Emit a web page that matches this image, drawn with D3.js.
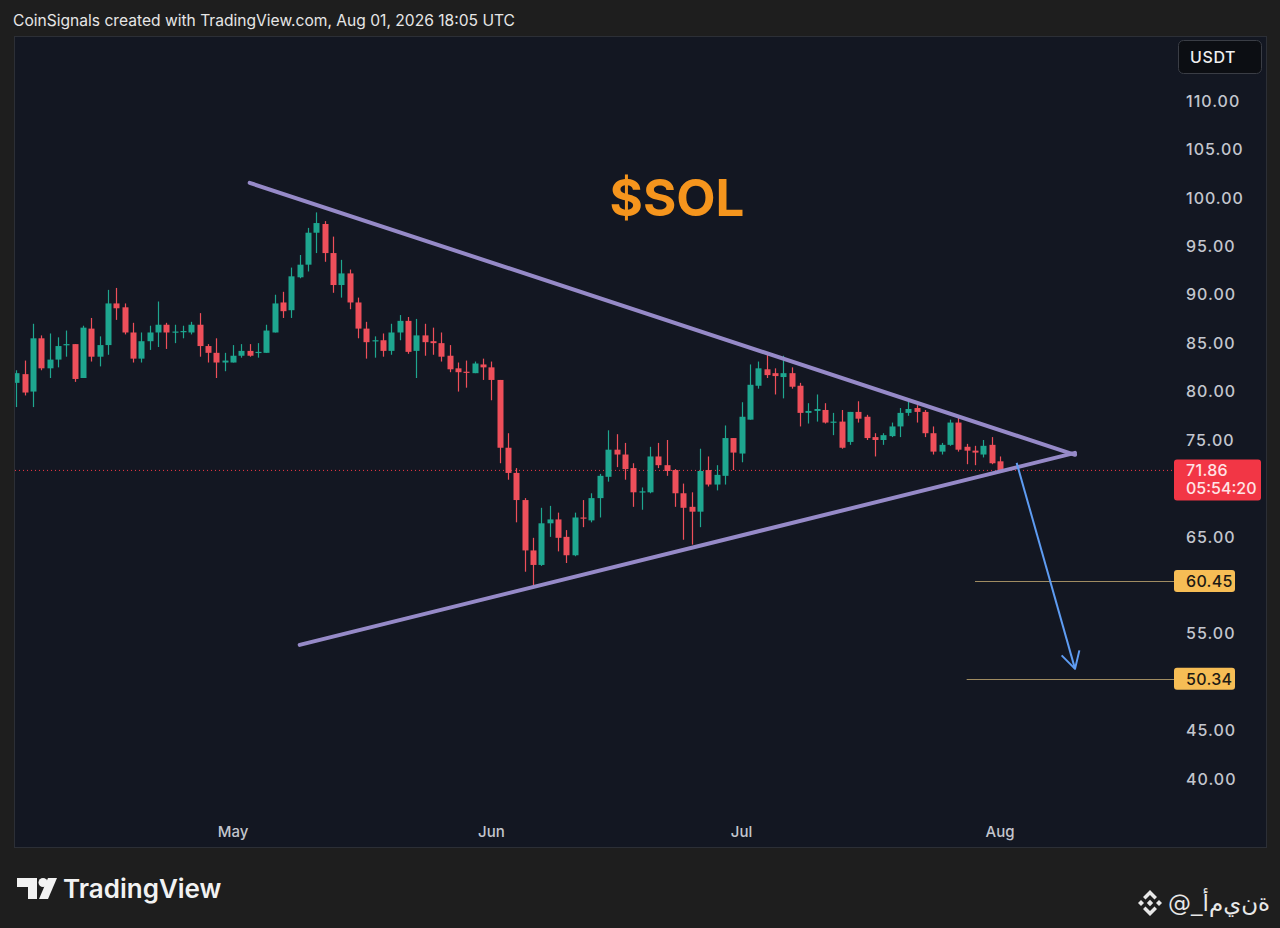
<!DOCTYPE html>
<html><head><meta charset="utf-8">
<script src="https://cdn.jsdelivr.net/npm/d3@7"></script>
<style>
html,body{margin:0;padding:0;background:#1e1e1e;}
svg{display:block;}
</style></head>
<body>
<svg id="c" width="1280" height="928"></svg>
<script>
// ---------------- DATA ----------------
const startDate = "2026-04-05"; // first daily candle
const opens  = [80.9,81.8,80.0,85.5,82.4,83.3,84.8,84.9,81.4,86.5,83.6,84.8,89.1,88.7,86.1,83.4,85.2,86.1,86.9,86.1,86.2,86.1,86.9,84.7,84.0,83.0,83.0,83.7,84.2,84.0,
84.0,86.1,89.2,88.4,91.8,93.1,96.4,97.3,94.3,91.0,92.2,89.2,86.5,85.2,85.3,84.2,86.1,87.3,84.2,85.8,85.2,85.0,83.7,82.4,82.05,81.9,82.8,82.5,81.2,74.2,
71.6,68.8,63.6,62.1,66.4,66.8,65.0,63.1,67.0,66.7,69.0,71.2,74.0,73.5,72.1,69.6,69.6,73.3,72.4,71.9,69.5,68.1,67.6,71.9,70.4,71.3,75.2,73.6,77.1,80.6,
82.3,81.9,81.5,81.9,80.6,77.8,78.0,78.1,76.8,76.9,74.8,77.9,77.4,75.3,75.0,75.4,76.4,77.8,78.3,77.9,75.7,73.8,74.5,76.8,74.3,73.9,73.5,74.5,72.8];
const highs  = [82.2,83.2,87.0,85.8,86.0,85.6,86.3,84.9,86.8,87.6,85.7,90.5,90.7,89.1,87.1,86.1,86.8,89.3,87.1,86.9,86.8,87.2,88.1,84.9,85.5,84.0,84.8,84.9,84.9,85.0,
86.9,90.0,90.3,92.8,94.1,96.9,98.5,97.6,96.0,93.6,92.6,89.7,87.2,85.7,86.0,87.0,87.9,87.7,87.5,87.0,86.6,86.1,84.8,83.0,83.2,83.1,83.4,83.1,81.2,75.7,
72.1,69.0,64.9,68.0,68.2,67.5,65.7,67.5,68.8,69.5,71.5,76.0,75.6,74.7,72.6,70.1,74.3,74.7,75.0,72.0,70.5,69.6,74.1,73.3,72.4,76.5,75.2,78.9,82.8,83.1,
83.8,82.4,83.7,82.5,80.9,78.8,79.7,78.8,77.8,78.1,77.9,79.0,77.6,75.7,75.7,76.8,78.3,79.0,78.6,78.1,76.4,74.7,77.1,77.4,74.6,74.4,75.0,75.3,73.3];
const lows   = [78.4,79.6,78.4,82.2,81.4,82.5,83.6,81.0,81.4,83.1,82.6,83.8,87.4,85.9,83.0,83.0,84.3,84.6,84.4,85.0,85.5,85.9,83.6,83.0,81.4,82.1,83.0,83.5,83.6,83.5,
84.0,86.1,87.6,87.6,91.7,92.4,94.3,93.4,90.2,89.7,88.5,85.5,83.4,83.5,83.6,83.8,85.3,83.9,81.4,83.7,83.8,83.1,82.0,80.0,80.4,81.9,81.2,79.1,72.6,70.9,
66.5,61.4,60.0,62.0,65.0,63.5,62.3,63.0,66.0,66.5,67.0,70.7,72.2,70.9,68.1,67.8,69.5,72.1,71.3,68.1,64.7,64.2,66.0,70.2,69.8,70.4,71.9,72.7,77.1,80.3,
81.4,79.7,79.3,80.3,76.4,76.7,76.9,76.7,75.5,74.1,74.5,76.8,75.0,73.3,74.5,75.3,75.3,77.5,76.8,75.3,73.5,73.5,74.4,73.8,72.5,72.4,73.2,72.5,71.8];
const closes = [81.9,79.9,85.5,82.4,83.3,84.7,84.9,81.3,86.6,83.6,84.8,89.1,88.6,86.1,83.4,85.2,86.1,86.9,86.1,86.2,86.25,86.9,84.7,84.0,83.0,83.2,83.7,84.2,83.7,84.1,
86.3,89.1,88.3,91.9,93.1,96.4,97.4,94.3,91.0,92.2,89.2,86.5,85.1,85.3,84.2,86.1,87.3,84.1,85.8,85.1,85.0,83.6,82.3,82.0,82.0,82.9,82.5,81.2,74.2,71.6,
68.8,63.6,62.1,66.4,66.8,64.9,63.1,67.0,66.9,69.0,71.3,74.0,73.5,72.0,69.6,69.7,73.3,72.4,71.8,69.5,68.0,67.6,71.8,70.4,71.4,75.2,73.7,77.4,80.7,82.4,
81.7,81.6,81.9,80.5,77.8,78.0,78.2,76.8,76.9,74.2,77.9,77.2,75.2,75.0,75.5,76.4,77.8,78.2,77.9,75.7,73.8,74.5,76.8,74.0,73.9,73.7,74.4,72.6,71.86];

const monthTicks = ["2026-05-01","2026-06-01","2026-07-01","2026-08-01"];
const monthLabels = ["May","Jun","Jul","Aug"];
const priceTicks = [110,105,100,95,90,85,80,75,65,55,45,40];
const lastPrice = 71.86;
const countdown = "05:54:20";
const targetLevels = [60.45, 50.34];
const targetStarts = ["2026-07-29","2026-07-28"];
const upperLine = [["2026-05-03",101.55],["2026-08-10",73.47]];
const lowerLine = [["2026-05-09",53.85],["2026-08-10",73.67]];
const arrowLine = [["2026-08-03",72.64],["2026-08-10",51.37]];
const title = "$SOL";
const headerText = "CoinSignals created with TradingView.com, Aug 01, 2026 18:05 UTC";
const currency = "USDT";
const brandText = "TradingView";
const handleText = "@_أ\u200Cم\u200Cي\u200Cن\u200Cة";

// ---------------- SETUP ----------------
const svg = d3.select("#c");
const P = d3.utcParse("%Y-%m-%d");
const FONT = "Inter, 'Open Sans', Roboto, sans-serif";
const UP = "#1ea68f", DOWN = "#ee4f5a";
const AXIS = "#c3c6ce";

const x = d3.scaleUtc().domain([P("2026-05-01"), P("2026-08-01")]).range([233, 1000]);
const y = d3.scaleLinear().domain([40, 110]).range([779, 101]);

const dates = d3.utcDay.range(P(startDate), d3.utcDay.offset(P(startDate), opens.length));
const candles = dates.map((d, i) => ({d, o: opens[i], h: highs[i], l: lows[i], c: closes[i]}));

// background
svg.append("rect").attr("width",1280).attr("height",928).attr("fill","#1e1e1e");
svg.append("rect").attr("x",14.5).attr("y",36.5).attr("width",1252).attr("height",811)
  .attr("fill","#131722").attr("stroke","#2c2f36").attr("stroke-width",1);

// header
svg.append("text").attr("x",13).attr("y",26).attr("fill","#e6e6e6")
  .attr("font-family",FONT).attr("font-size",15.6).text(headerText);

// chart clip
svg.append("defs").append("clipPath").attr("id","clip")
  .append("rect").attr("x",15).attr("y",37).attr("width",1155).attr("height",770);

const plot = svg.append("g");

// current price dotted line
plot.append("line").attr("x1",15).attr("x2",1174)
  .attr("y1",y(lastPrice)).attr("y2",y(lastPrice))
  .attr("stroke","#f23645").attr("stroke-width",1).attr("stroke-dasharray","1,3");

// candles
const cw = 6;
const g = plot.append("g").attr("clip-path","url(#clip)");
const cg = g.selectAll("g.cd").data(candles).join("g").attr("class","cd");
cg.append("line")
  .attr("x1", d => Math.round(x(d.d)) + 0.5).attr("x2", d => Math.round(x(d.d)) + 0.5)
  .attr("y1", d => y(d.h)).attr("y2", d => y(d.l))
  .attr("stroke", d => d.c >= d.o ? UP : DOWN).attr("stroke-width",1.2);
cg.append("rect")
  .attr("x", d => Math.round(x(d.d)) + 0.5 - cw/2)
  .attr("width", cw)
  .attr("y", d => y(Math.max(d.o, d.c)))
  .attr("height", d => Math.max(1.2, Math.abs(y(d.o) - y(d.c))))
  .attr("fill", d => d.c >= d.o ? UP : DOWN);

// trend lines
const lineGen = d3.line().x(p => x(P(p[0]))).y(p => y(p[1]));
[upperLine, lowerLine].forEach(L => {
  plot.append("path").attr("d", lineGen(L)).attr("fill","none")
    .attr("stroke","#968ac8").attr("stroke-width",4).attr("stroke-linecap","round");
});

// target levels
targetLevels.forEach((v, i) => {
  plot.append("line").attr("x1", x(P(targetStarts[i]))).attr("x2", 1174)
    .attr("y1", Math.round(y(v)) + 0.5).attr("y2", Math.round(y(v)) + 0.5)
    .attr("stroke","#a08c62").attr("stroke-width",1);
});

// blue arrow
const a0 = [x(P(arrowLine[0][0])), y(arrowLine[0][1])];
const a1 = [x(P(arrowLine[1][0])), y(arrowLine[1][1])];
plot.append("path").attr("d", lineGen(arrowLine)).attr("fill","none")
  .attr("stroke","#5e9cf2").attr("stroke-width",2);
const ang = Math.atan2(a0[1]-a1[1], a0[0]-a1[0]);
const wl = 19, spread = Math.PI/6.2;
const wing = s => [a1[0] + wl*Math.cos(ang+s), a1[1] + wl*Math.sin(ang+s)];
plot.append("path")
  .attr("d", d3.line()([wing(spread), a1, wing(-spread)]))
  .attr("fill","none").attr("stroke","#5e9cf2").attr("stroke-width",2)
  .attr("stroke-linejoin","round");

// title
svg.append("text").attr("x",677).attr("y",216).attr("text-anchor","middle")
  .attr("fill","#f5951d").attr("font-family",FONT).attr("font-weight",700)
  .attr("font-size",51).text(title);

// y axis labels
const axisText = (sel, ls) => sel.attr("font-family",FONT).attr("font-size",16)
  .attr("font-weight",500).attr("letter-spacing",ls);
svg.append("g").selectAll("text").data(priceTicks).join("text")
  .attr("x",1186).attr("y", d => y(d)).attr("dy","0.36em")
  .attr("fill",AXIS).call(axisText, 1.0)
  .text(d => d3.format(".2f")(d));

// USDT box
svg.append("rect").attr("x",1178.5).attr("y",40.5).attr("width",83).attr("height",33).attr("rx",5)
  .attr("fill","#0c0e13").attr("stroke","#3a3d45");
svg.append("text").attr("x",1190).attr("y",57).attr("dy","0.36em")
  .attr("fill","#f0f0f0").attr("font-family",FONT).attr("font-size",16).attr("font-weight",500)
  .attr("letter-spacing",0.6).text(currency);

// target labels
targetLevels.forEach(v => {
  svg.append("rect").attr("x",1174).attr("y", y(v) - 11).attr("width",61).attr("height",22).attr("rx",3)
    .attr("fill","#f6bd55");
  svg.append("text").attr("x",1186).attr("y", y(v)).attr("dy","0.36em")
    .attr("fill","#1d1a14").call(axisText, 0.3)
    .text(d3.format(".2f")(v));
});

// last price label
svg.append("rect").attr("x",1174).attr("y", y(lastPrice) - 11).attr("width",87).attr("height",41).attr("rx",3)
  .attr("fill","#f23645");
svg.append("text").attr("x",1186).attr("y", y(lastPrice)).attr("dy","0.36em")
  .attr("fill","#ffe3e5").call(axisText, 0.3).text(d3.format(".2f")(lastPrice));
svg.append("text").attr("x",1186).attr("y", y(lastPrice) + 18).attr("dy","0.36em")
  .attr("fill","#ffe3e5").call(axisText, 0).text(countdown);

// x axis labels
svg.append("g").selectAll("text").data(monthTicks).join("text")
  .attr("x", d => x(P(d))).attr("y",832).attr("dy","0.36em").attr("text-anchor","middle")
  .attr("fill",AXIS).attr("font-family",FONT).attr("font-size",15).attr("font-weight",500)
  .text((d,i) => monthLabels[i]);

// footer: TradingView logo
const logo = svg.append("g").attr("fill","#f2f2f2");
logo.append("path").attr("d","M17,878 H37 V899 H28 V887 H17 Z");
logo.append("circle").attr("cx",43).attr("cy",882.5).attr("r",4.5);
logo.append("path").attr("d","M48,878 H57 L48,899 H39 Z");
svg.append("text").attr("x",63).attr("y",898).attr("fill","#f2f2f2")
  .attr("font-family",FONT).attr("font-weight",600).attr("font-size",26)
  .text(brandText);

// footer: Binance-like icon + handle
const bi = svg.append("g").attr("transform","translate(1150,903)").attr("fill","#e8e8e8");
const dia = (cx, cy, s) => `M${cx},${cy-s} L${cx+s},${cy} L${cx},${cy+s} L${cx-s},${cy} Z`;
bi.append("path").attr("d", dia(0,0,3.2));
bi.append("path").attr("d", dia(-9,0,3));
bi.append("path").attr("d", dia(9,0,3));
bi.append("path").attr("d","M0,-13 L7,-6 L4.5,-3.5 L0,-8 L-4.5,-3.5 L-7,-6 Z");
bi.append("path").attr("d","M0,13 L7,6 L4.5,3.5 L0,8 L-4.5,3.5 L-7,6 Z");
svg.append("text").attr("x",1168).attr("y",911).attr("fill","#e8e8e8")
  .attr("font-family","'DejaVu Sans', 'Noto Sans', sans-serif").attr("font-size",23)
  .style("direction","ltr").style("unicode-bidi","bidi-override")
  .text(handleText);
</script>
</body></html>
